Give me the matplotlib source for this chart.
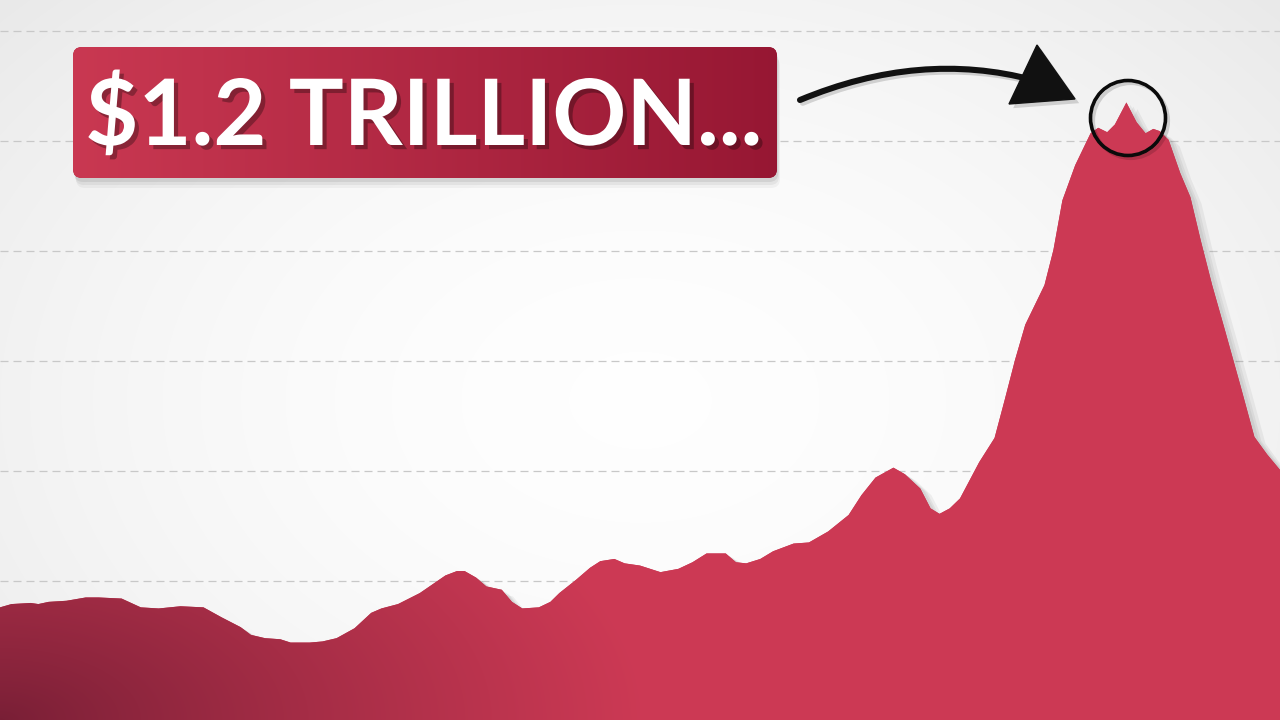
import numpy as np
import matplotlib.pyplot as plt
import matplotlib.patheffects as pe
from matplotlib.patches import FancyBboxPatch, Circle, Polygon, PathPatch
from matplotlib.path import Path

# time axis (0-100) and value in gridline units
period = [0.0, 0.9, 2.4, 3.0, 3.8, 5.2, 6.7, 7.7, 9.5, 11.0, 12.4, 14.1, 15.9,
          17.3, 18.8, 19.6, 20.7, 21.9, 22.7, 24.2, 25.2, 26.3, 27.7, 29.0,
          29.8, 31.1, 32.8, 34.8, 35.7, 36.3, 37.2, 38.0, 39.2, 40.0, 40.8,
          42.1, 43.0, 43.7, 45.0, 46.1, 46.9, 48.0, 48.8, 50.0, 51.6, 53.0,
          54.1, 55.2, 56.7, 57.5, 58.3, 59.4, 60.4, 62.0, 63.2, 64.7, 66.3,
          67.3, 68.4, 69.8, 70.7, 71.9, 72.7, 73.4, 74.2, 75.0, 76.5, 77.7,
          78.5, 79.3, 80.1, 81.6, 82.3, 83.0, 84.0, 85.2, 85.8, 86.5, 87.1,
          88.0, 88.8, 89.5, 90.1, 90.6, 91.3, 92.2, 93.0, 93.8, 94.7, 95.7,
          96.9, 98.0, 99.0, 100.0]
value = [0.76, 0.79, 0.80, 0.79, 0.81, 0.82, 0.85, 0.85, 0.84, 0.76, 0.75,
         0.77, 0.76, 0.67, 0.58, 0.51, 0.48, 0.47, 0.44, 0.44, 0.45, 0.48,
         0.57, 0.71, 0.75, 0.79, 0.89, 1.05, 1.09, 1.09, 1.03, 0.95, 0.92,
         0.81, 0.75, 0.76, 0.81, 0.89, 1.01, 1.12, 1.18, 1.20, 1.16, 1.14,
         1.08, 1.11, 1.17, 1.25, 1.25, 1.17, 1.16, 1.20, 1.27, 1.34, 1.35,
         1.45, 1.60, 1.78, 1.94, 2.03, 1.97, 1.84, 1.66, 1.61, 1.66, 1.75,
         2.08, 2.30, 2.65, 3.01, 3.33, 3.69, 4.01, 4.46, 4.78, 5.07, 5.12,
         5.08, 5.15, 5.35, 5.17, 5.07, 5.11, 5.09, 5.01, 4.71, 4.49, 4.10,
         3.69, 3.28, 2.78, 2.31, 2.15, 2.01]
grid_levels = [1, 2, 3, 4, 5, 6]
label = "$1.2 TRILLION..."

ymin, ymax = -0.264, 6.282
W, H = 1280, 720

fig = plt.figure(figsize=(12.8, 7.2), dpi=100)
ax = fig.add_axes([0, 0, 1, 1])
ax.set_xlim(0, 100)
ax.set_ylim(ymin, ymax)
for s in ax.spines.values():
    s.set_visible(False)
ax.set_xticks([])
ax.set_yticks(grid_levels)
ax.tick_params(length=0, labelleft=False)
ax.grid(axis='y', color='#c8c8c8', lw=0.9, ls=(0, (6.4, 4)))
ax.set_axisbelow(True)

# soft radial background
yy, xx = np.mgrid[0:H, 0:W]
r = np.sqrt(((xx - 640) / 820) ** 2 + ((yy - 400) / 560) ** 2)
shade = 0.997 - 0.075 * np.clip(r, 0, 1.2) ** 1.8
ax.imshow(np.dstack([shade] * 3), extent=[0, 100, ymin, ymax],
          aspect='auto', zorder=0)

# area, with a soft shadow
shadow = [pe.SimplePatchShadow(offset=(o, -o * 0.6), shadow_rgbFace='black',
                               alpha=0.05) for o in (8, 5, 3)]
area = ax.fill_between(period, value, ymin, color='#c93954', lw=0, zorder=3,
                       path_effects=shadow + [pe.Normal()])

# diagonal dark-to-red gradient clipped to the area
t = np.sqrt((xx / 640) ** 2 + ((H - yy) / 330) ** 2)
t = np.clip(t, 0, 1) ** 0.85
dark = np.array([0.47, 0.12, 0.21])
light = np.array([0.80, 0.225, 0.33])
grad = dark + (light - dark) * t[..., None]
im = ax.imshow(grad, extent=[0, 100, ymin, ymax], aspect='auto', zorder=4)
im.set_clip_path(area.get_paths()[0], transform=ax.transData)

# overlay in pixel coordinates for the annotation
ov = fig.add_axes([0, 0, 1, 1])
ov.set_xlim(0, W)
ov.set_ylim(H, 0)
ov.axis('off')
ov.patch.set_alpha(0)

bx, by, bw, bh = 73, 47, 704, 131
for off, a in [(10, 0.04), (7, 0.05), (4, 0.07)]:
    ov.add_patch(FancyBboxPatch((bx + off * 0.3, by + off), bw, bh,
                                boxstyle='round,pad=0,rounding_size=9',
                                fc='black', ec='none', alpha=a, zorder=2))
box = FancyBboxPatch((bx, by), bw, bh, boxstyle='round,pad=0,rounding_size=9',
                     fc='#b02a45', ec='none', zorder=3)
ov.add_patch(box)
hx = np.linspace(0, 1, 400)
c0 = np.array([0.79, 0.22, 0.32])
c1 = np.array([0.59, 0.09, 0.20])
bgrad = (c0 + (c1 - c0) * hx[:, None])[None, :, :].repeat(2, axis=0)
bim = ov.imshow(bgrad, extent=[bx, bx + bw, by + bh, by], aspect='auto', zorder=4)
bim.set_clip_path(box)
ov.set_xlim(0, W)
ov.set_ylim(H, 0)

ov.text(424, 145, label, color='white', fontsize=66, fontweight='bold',
        family=['Lato', 'DejaVu Sans'], ha='center', va='baseline', zorder=6,
        path_effects=[pe.withSimplePatchShadow(offset=(3, -3),
                                               shadow_rgbFace='black', alpha=0.3)])

# curved arrow toward the peak
arc = Path([(800, 100), (920, 50), (1033, 80)],
           [Path.MOVETO, Path.CURVE3, Path.CURVE3])
ov.add_patch(PathPatch(arc, fc='none', ec='#111111', lw=4.4, capstyle='round',
                       zorder=6, path_effects=[pe.SimpleLineShadow(offset=(2, -2), alpha=0.15), pe.Normal()]))
ov.add_patch(Polygon([(1037, 45), (1009, 104), (1075, 99)], closed=True,
                     fc='#111111', ec='#111111', lw=1, zorder=6,
                     path_effects=[pe.SimplePatchShadow(offset=(3, -3), alpha=0.15), pe.Normal()]))

# circle on the peak
ov.add_patch(Circle((1128, 118), 37.5, fc='none', ec='#0a0a0a', lw=2.6, zorder=6,
                    path_effects=[pe.SimpleLineShadow(offset=(2, -2), alpha=0.15), pe.Normal()]))

fig.savefig('out.png', dpi=100)
